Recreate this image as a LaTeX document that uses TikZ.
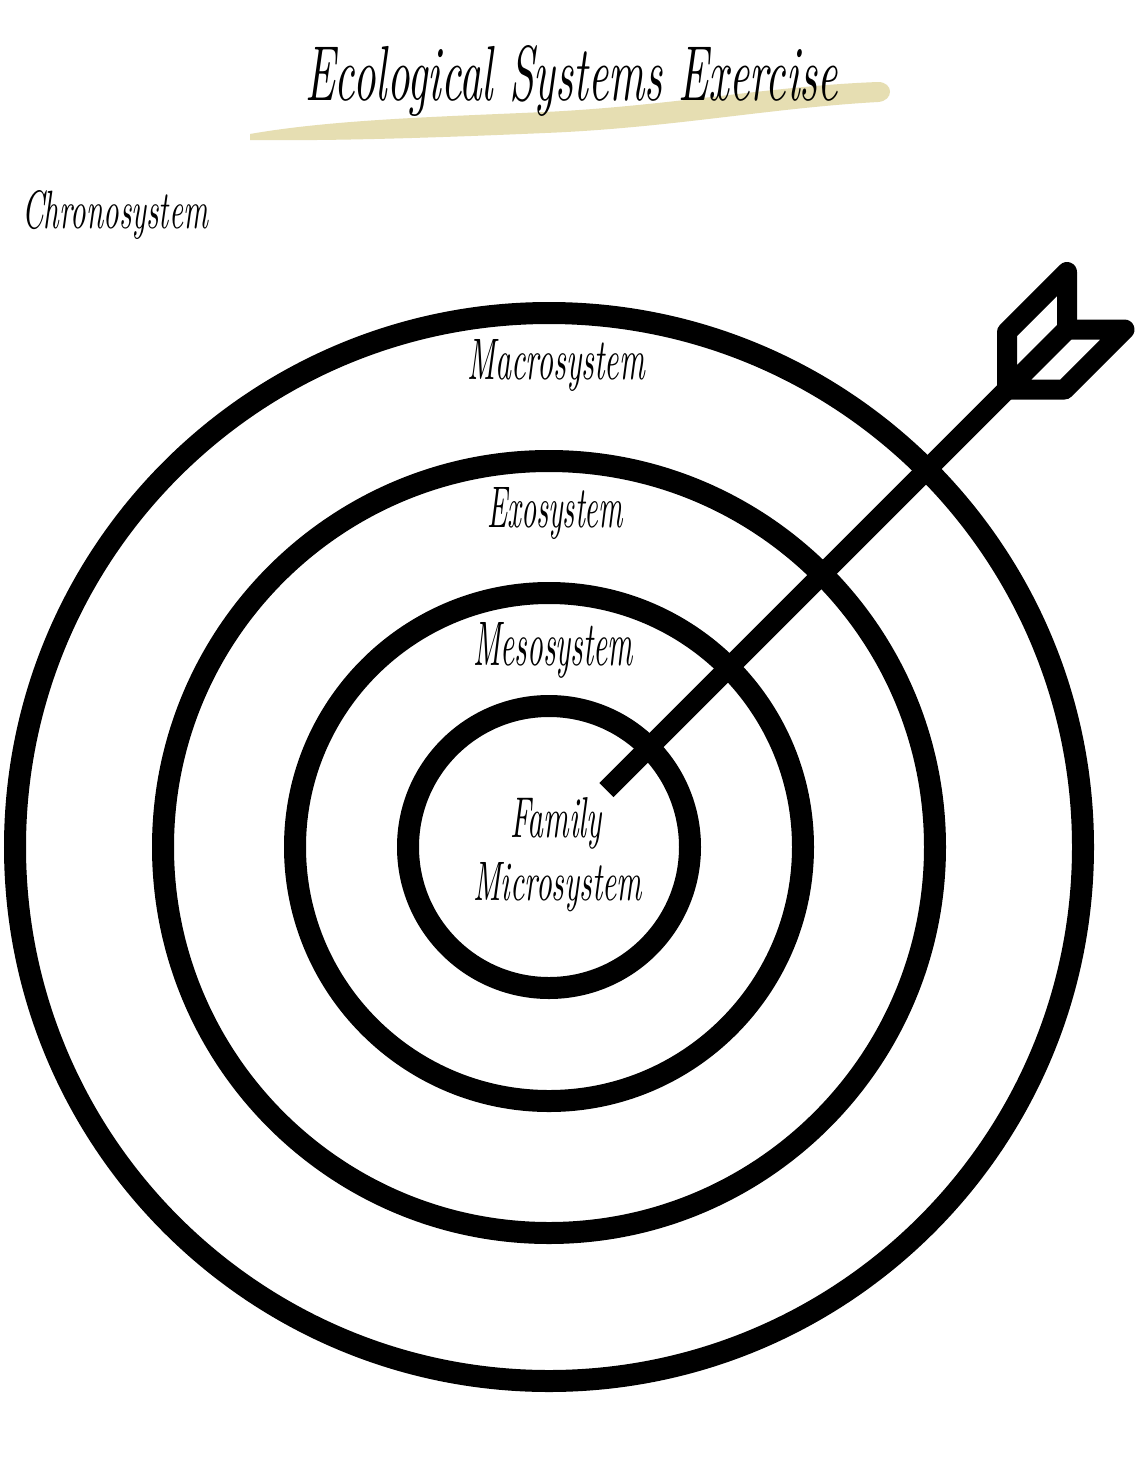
\documentclass[tikz,border=0pt]{standalone}
\usepackage{graphicx}
\definecolor{goldbrush}{RGB}{230,222,178}
\newcommand\fitlabel[3]{\resizebox{#1}{#2}{\itshape #3}}
\tikzset{
  ring/.style={circle, draw=black, line width=22pt, inner sep=0pt, outer sep=0pt},
  lbl/.style={anchor=base west, inner sep=0pt, outer sep=0pt, text=black},
  arrowline/.style={draw=black, line width=20pt, line join=round},
}
\begin{document}
\begin{tikzpicture}[x=1pt, y=-1pt]
\useasboundingbox[fill=white] (0,0) rectangle (1140,1476);

% gold brush stroke under the title
\fill[goldbrush] (250,134) .. controls (330,120) and (430,117) .. (545,112)
  .. controls (670,106) and (770,86) .. (878,82)
  .. controls (894,82) and (894,101) .. (878,102)
  .. controls (770,108) and (670,128) .. (545,133)
  .. controls (430,138) and (330,141) .. (250,140) -- cycle;

% title
\node[lbl] (title) at (305,100) {\fitlabel{533pt}{55pt}{Ecological Systems Exercise}};
\node[lbl] (chrono) at (22,228) {\fitlabel{186pt}{38pt}{Chronosystem}};

% rings
\node[ring, minimum size=1068pt] (macroring) at (549,847) {};
\node[ring, minimum size=772pt]  (exoring)   at (549,847) {};
\node[ring, minimum size=508pt]  (mesoring)  at (549,847) {};
\node[ring, minimum size=282pt]  (microring) at (549,847) {};

% labels
\node[lbl] (macro) at (467,379) {\fitlabel{178pt}{40pt}{Macrosystem}};
\node[lbl] (exo)   at (487,527) {\fitlabel{136pt}{40pt}{Exosystem}};
\node[lbl] (meso)  at (473,665) {\fitlabel{160pt}{43pt}{Mesosystem}};
\node[lbl] (family) at (510,837) {\fitlabel{92pt}{40pt}{Family}};
\node[lbl] (micro) at (473,900) {\fitlabel{169pt}{38pt}{Microsystem}};

% arrow
\coordinate (tail) at (606.5,790);
\coordinate (notch) at (1067,329.5);
\coordinate (uptop) at (1067,272);
\coordinate (upleft) at (1007,332);
\coordinate (base) at (1007,389.5);
\coordinate (lowright) at (1124.5,329.5);
\coordinate (lowbot) at (1064.5,389.5);
\draw[arrowline, line cap=butt] (tail) -- (notch);
\draw[arrowline] (notch) -- (uptop) -- (upleft) -- (base) -- cycle;
\draw[arrowline] (notch) -- (lowright) -- (lowbot) -- (base) -- cycle;
\end{tikzpicture}
\end{document}
